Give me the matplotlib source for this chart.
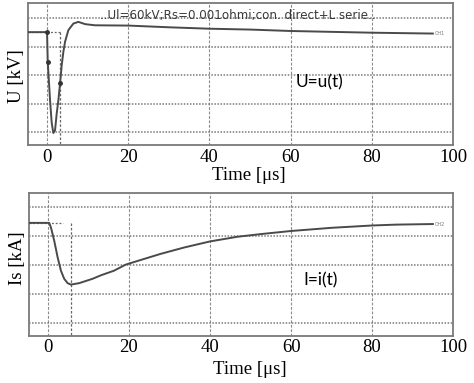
import matplotlib
matplotlib.use("Agg")
import matplotlib.pyplot as plt

# voltage trace (top scope channel), grid units
t_u = [-4.7, 0.0, 0.17, 0.74, 1.15, 1.55, 1.97, 2.38, 2.79, 3.2, 3.61, 4.02, 4.43,
       5.25, 6.48, 7.7, 9.4, 11.8, 20, 30, 40, 50, 60, 70, 80, 90, 95]
u_vals = [3.51, 3.51, 2.46, 1.12, 0.32, -0.03, 0.07, 0.66, 1.12, 1.71, 2.35, 2.82, 3.17,
          3.58, 3.81, 3.87, 3.79, 3.75, 3.74, 3.68, 3.63, 3.60, 3.55, 3.52, 3.49, 3.47, 3.46]
u_marks_t = [0.0, 0.17, 3.2]
u_marks_v = [3.51, 2.46, 1.71]

# current trace (bottom scope channel)
t_i = [-4.7, 0.3, 0.74, 1.55, 2.39, 3.2, 4.01, 4.85, 5.67, 7.7, 11.0, 13.05, 16.3, 19.2,
       22.9, 27.8, 33.6, 40, 46.7, 53, 60, 70, 80, 86, 95]
i_vals = [3.45, 3.45, 3.29, 2.83, 2.26, 1.80, 1.52, 1.37, 1.32, 1.37, 1.52, 1.64, 1.80, 2.01,
          2.17, 2.38, 2.60, 2.81, 2.97, 3.07, 3.17, 3.28, 3.36, 3.39, 3.41]

x_ticks = [0, 20, 40, 60, 80, 100]
v_grid = [0, 20, 40, 60, 80]
h_grid = [0, 1, 2, 3, 4]

SERIF = "Liberation Serif"
TRACE = "#4a4a4a"
GRID = "#8a8a8a"

fig = plt.figure(figsize=(4.74, 3.83), dpi=100)
ax1 = fig.add_axes([0.059, 0.621, 0.897, 0.371])
ax2 = fig.add_axes([0.061, 0.123, 0.895, 0.373])


def scope_axes(ax, ylim, ylab, ylab_y):
    ax.set_xlim(-4.7, 100)
    ax.set_ylim(*ylim)
    for x in v_grid:
        ax.axvline(x, color=GRID, lw=0.8, ls=(0, (2.5, 1.5)), zorder=1)
    for y in h_grid:
        ax.axhline(y, color="#7a7a7a", lw=1.1, ls=(0, (1, 1)), zorder=1)
    ax.set_xticks(x_ticks)
    ax.set_xticklabels([str(v) for v in x_ticks], family=SERIF, fontsize=13.5)
    ax.set_yticks([])
    ax.tick_params(axis="x", length=0, pad=2.5)
    for s in ax.spines.values():
        s.set_color("#7a7a7a")
        s.set_linewidth(1.3)
    ax.set_ylabel(ylab, family=SERIF, fontsize=13.5)
    ax.yaxis.set_label_coords(-0.006, ylab_y)
    ax.set_xlabel("Time [\u03bcs]", family=SERIF, fontsize=13.5)


# ── top: U = u(t) ─────────────────────────────
scope_axes(ax1, (-0.456, 4.53), "U [kV]", 0.486)
ax1.xaxis.set_label_coords(0.52, -0.155)
ax1.plot([-4.7, 3.2], [3.51, 3.51], color="#666", lw=0.9, ls=(0, (1.5, 1.5)), zorder=2)
ax1.plot([3.2, 3.2], [3.51, -0.456], color="#666", lw=0.9, ls=(0, (2, 1.5)), zorder=2)
ax1.plot(t_u, u_vals, color=TRACE, lw=1.4, zorder=3)
ax1.plot(u_marks_t, u_marks_v, "o", ms=2.5, color="#333", zorder=4)
ax1.text(13.0, 4.1, "..Ul=60kV;Rs=0.001ohmi;con. direct+L serie..",
         family="DejaVu Sans", fontsize=8.6, color="#3a3a3a", va="center")
ax1.text(95.5, 3.46, "CH1", fontsize=3.5, color="#777", va="center")
ax1.text(61.1, 1.75, "U=u(t)", family="Lato", fontsize=12.5, va="center")

# ── bottom: I = i(t) ──────────────────────────
scope_axes(ax2, (-0.45, 4.48), "Is [kA]", 0.545)
ax2.xaxis.set_label_coords(0.52, -0.175)
ax2.plot([-4.7, 3.8], [3.45, 3.45], color="#666", lw=0.9, ls=(0, (1.5, 1.5)), zorder=2)
ax2.plot([5.67, 5.67], [3.45, -0.45], color="#666", lw=0.9, ls=(0, (2, 1.5)), zorder=2)
ax2.plot(t_i, i_vals, color=TRACE, lw=1.4, zorder=3)
ax2.text(95.5, 3.41, "CH2", fontsize=3.5, color="#777", va="center")
ax2.text(63.0, 1.46, "I=i(t)", family="Lato", fontsize=12.5, va="center")

fig.savefig("out.png", dpi=100)
plt.close(fig)
